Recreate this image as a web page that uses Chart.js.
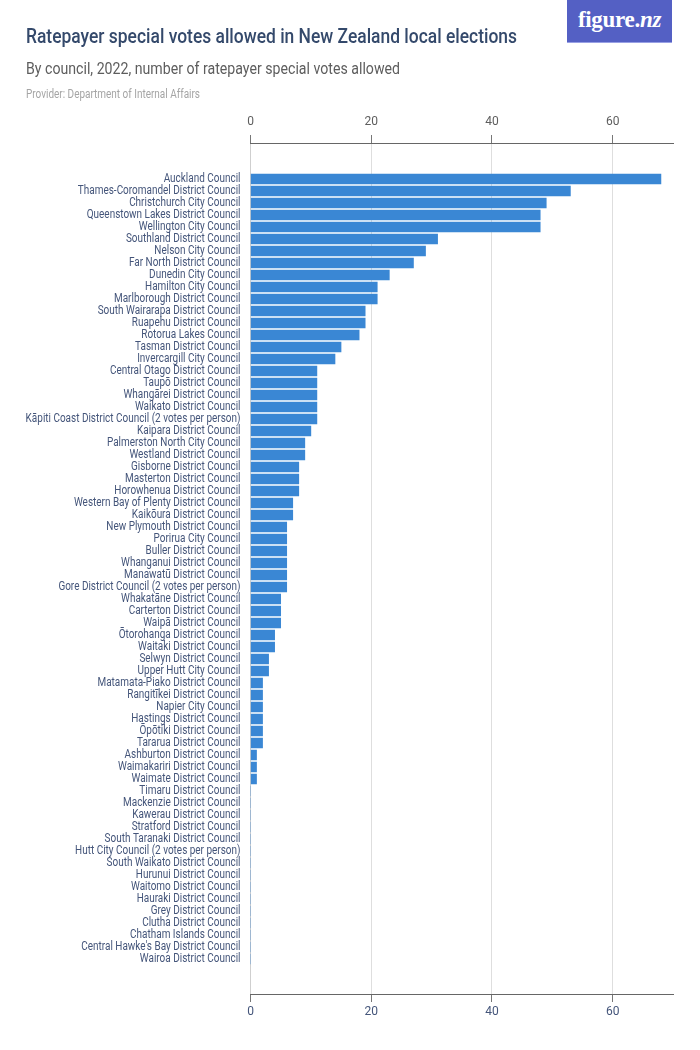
<!DOCTYPE html>
<html><head><meta charset="utf-8">
<script src="https://cdn.jsdelivr.net/npm/chart.js@4"></script>
<style>
html,body{margin:0;padding:0;background:#fff;width:700px;height:1050px;overflow:hidden}
#wrap{position:relative;width:700px;height:1050px}
canvas{position:absolute;left:0;top:0}
.t{position:absolute;white-space:nowrap;font-family:Roboto,sans-serif;transform-origin:0 50%}
#title{left:26px;top:24px;font-size:20px;font-weight:500;color:#34496b}
#sub{left:26px;top:58px;font-size:17px;color:#5d5d5d}
#prov{left:26px;top:86px;font-size:12.5px;color:#a5a5a5}
#logo{position:absolute;left:567px;top:0;width:105px;height:42px;background:#5460c4;border-bottom:1px solid #98a0e4;color:#fff;font:700 23px "Liberation Serif",serif;text-align:center;line-height:39px;letter-spacing:-.3px}
</style></head><body>
<div id="wrap">
<canvas id="c" width="700" height="1050"></canvas>
<div class="t" id="title" data-w="491">Ratepayer special votes allowed in New Zealand local elections</div>
<div class="t" id="sub" data-w="374">By council, 2022, number of ratepayer special votes allowed</div>
<div class="t" id="prov" data-w="174">Provider: Department of Internal Affairs</div>
<div id="logo">figure.<i>nz</i></div>
</div>
<script>
const categories = ["Auckland Council","Thames-Coromandel District Council","Christchurch City Council","Queenstown Lakes District Council","Wellington City Council","Southland District Council","Nelson City Council","Far North District Council","Dunedin City Council","Hamilton City Council","Marlborough District Council","South Wairarapa District Council","Ruapehu District Council","Rotorua Lakes Council","Tasman District Council","Invercargill City Council","Central Otago District Council","Taupō District Council","Whangārei District Council","Waikato District Council","Kāpiti Coast District Council (2 votes per person)","Kaipara District Council","Palmerston North City Council","Westland District Council","Gisborne District Council","Masterton District Council","Horowhenua District Council","Western Bay of Plenty District Council","Kaikōura District Council","New Plymouth District Council","Porirua City Council","Buller District Council","Whanganui District Council","Manawatū District Council","Gore District Council (2 votes per person)","Whakatāne District Council","Carterton District Council","Waipā District Council","Ōtorohanga District Council","Waitaki District Council","Selwyn District Council","Upper Hutt City Council","Matamata-Piako District Council","Rangitīkei District Council","Napier City Council","Hastings District Council","Ōpōtiki District Council","Tararua District Council","Ashburton District Council","Waimakariri District Council","Waimate District Council","Timaru District Council","Mackenzie District Council","Kawerau District Council","Stratford District Council","South Taranaki District Council","Hutt City Council (2 votes per person)","South Waikato District Council","Hurunui District Council","Waitomo District Council","Hauraki District Council","Grey District Council","Clutha District Council","Chatham Islands Council","Central Hawke's Bay District Council","Wairoa District Council"];
const votes = [68,53,49,48,48,31,29,27,23,21,21,19,19,18,15,14,11,11,11,11,11,10,9,9,8,8,8,7,7,6,6,6,6,6,6,5,5,5,4,4,3,3,2,2,2,2,2,2,1,1,1,0,0,0,0,0,0,0,0,0,0,0,0,0,0,0];
const xTicks = [0,20,40,60];

// The reference uses a condensed face that is not installed: fit real text to its measured width.
document.querySelectorAll('.t').forEach(e=>{
  e.style.transform='scaleX('+(+e.dataset.w/e.getBoundingClientRect().width)+')';
});
const canvas = document.getElementById('c');
const ctx = canvas.getContext('2d');
const rawFill = ctx.fillText.bind(ctx);
ctx.fillText = function(text,x,y,mw){
  if(ctx.textAlign==='right'){
    ctx.save();ctx.translate(x,y);ctx.scale(0.83,1);
    rawFill(text,0,0);ctx.restore();
  } else rawFill(text,x,y,mw);
};

const gridCol = c => c.tick && c.tick.value === 0 ? '#cfcfcf' : '#dedede';
function xAxis(pos, labelColor, draw, pad){
  return {type:'linear',position:pos,min:0,max:70,
    afterBuildTicks:s=>{s.ticks=xTicks.map(v=>({value:v}));},
    afterFit:s=>{s.height=30;},
    border:{display:true,color:'#666',width:1},
    grid:{display:true,drawOnChartArea:draw,drawTicks:true,tickLength:8,color:gridCol,lineWidth:1,tickColor:'#777',tickWidth:1},
    ticks:{color:labelColor,padding:pad,maxRotation:0,font:{family:'Roboto, sans-serif',size:12}}
  };
}
new Chart(ctx,{
  type:'bar',
  data:{labels:categories,datasets:[{
    label:'Ratepayer special votes allowed',
    data:votes.map((v,i)=>({x:v,y:i})),
    backgroundColor:'#3a87d4',
    barThickness:10,
    xAxisID:'x',yAxisID:'y'
  }]},
  options:{
    indexAxis:'y',responsive:false,animation:false,devicePixelRatio:1,
    layout:{padding:{top:113,bottom:26,left:0,right:27}},
    plugins:{legend:{display:false},title:{display:false},tooltip:{enabled:false}},
    scales:{
      x:xAxis('top','#5d5d5d',true,6),
      xb:Object.assign(xAxis('bottom','#44557a',false,3),{axis:'x'}),
      y:{type:'linear',reverse:true,offset:false,min:-3,max:67.9167,
        afterFit:s=>{s.width=250.5;},
        border:{display:false},
        grid:{display:false,drawTicks:false},
        ticks:{stepSize:1,autoSkip:false,includeBounds:false,padding:10,color:'#44557a',
          font:{family:'Roboto, sans-serif',size:12},
          callback:v=>categories[v]===undefined?'':categories[v]}
      }
    }
  }
});
</script>
</body></html>
